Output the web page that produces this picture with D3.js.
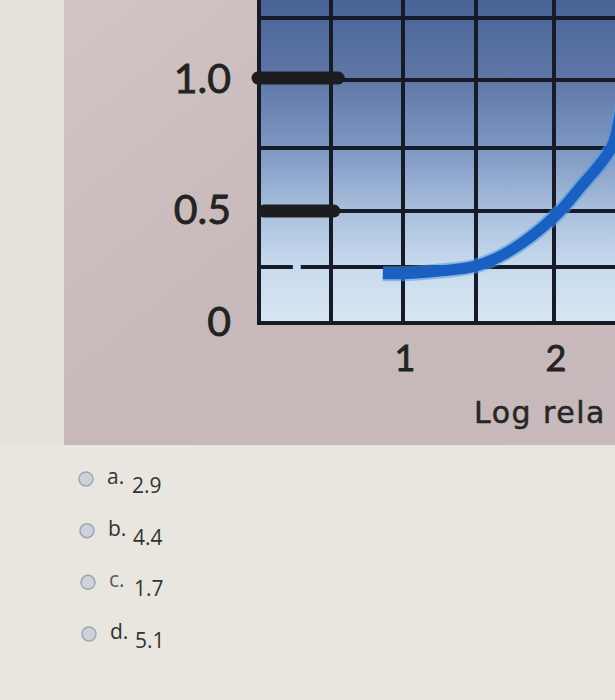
<!DOCTYPE html>
<html><head><meta charset="utf-8">
<script src="https://cdn.jsdelivr.net/npm/d3@7"></script>
<style>
html,body{margin:0;padding:0;background:#e8e6de;overflow:hidden;}
svg{display:block;}
</style></head>
<body>
<svg id="c" width="615" height="700"></svg>
<script>
// ---- data ----
const xTicks = [1, 2];
const xTickLabels = ["1", "2"];
const yTicks = [0, 0.5, 1.0];
const yTickLabels = ["0", "0.5", "1.0"];
const xGrid = [0.5, 1, 1.5, 2];
const yGrid = [0.25, 0.5, 0.75, 1.0, 1.25];
const curveX = [0.86, 1.0, 1.25, 1.5, 1.72, 2.0, 2.17, 2.37, 2.43, 2.50];
const curveY = [0.22, 0.22, 0.232, 0.255, 0.323, 0.473, 0.595, 0.754, 0.89, 1.05];
const xTitle = "Log rela";
const optLetters = ["a.", "b.", "c.", "d."];
const optValues = ["2.9", "4.4", "1.7", "5.1"];

const svg = d3.select("#c");
const W = 615, H = 700;

// photo perspective -> piecewise linear scales
const x = d3.scaleLinear().domain([0, 0.5, 1, 1.5, 2, 2.5]).range([259, 331, 403, 476, 554, 632]);
const y = d3.scaleLinear().domain([0, 0.25, 0.5, 0.75, 1, 1.25, 1.5]).range([323, 267, 211, 148, 80, 18, -44]);

const defs = svg.append("defs");
const pg = defs.append("linearGradient").attr("id", "plotbg").attr("x1", 0).attr("y1", 0).attr("x2", 0).attr("y2", 1);
[[0, "#4a6397"], [0.25, "#5f78a8"], [0.46, "#7e97c2"], [0.65, "#a8bfdc"], [0.82, "#c6d9ed"], [1, "#dae7f3"]]
  .forEach(s => pg.append("stop").attr("offset", s[0]).attr("stop-color", s[1]));
const panelG = defs.append("linearGradient").attr("id", "panelbg").attr("x1", 0).attr("y1", 0).attr("x2", 1).attr("y2", 1);
[[0, "#d2c5c4"], [0.5, "#c7b8b9"], [1, "#c8babc"]]
  .forEach(s => panelG.append("stop").attr("offset", s[0]).attr("stop-color", s[1]));
defs.append("clipPath").attr("id", "plotclip").append("rect")
  .attr("x", x(0)).attr("y", 0).attr("width", W - x(0)).attr("height", y(0));

// page regions
svg.append("rect").attr("x", 0).attr("y", 0).attr("width", 64).attr("height", 445).attr("fill", "#e3e1d9");
svg.append("rect").attr("x", 64).attr("y", 0).attr("width", W - 64).attr("height", 445).attr("fill", "url(#panelbg)");

// plot background
svg.append("rect").attr("x", x(0)).attr("y", 0).attr("width", W - x(0)).attr("height", y(0)).attr("fill", "url(#plotbg)");

const ink = "#161b27";
const grid = svg.append("g").attr("stroke", ink).attr("stroke-width", 4);
grid.selectAll("line.v").data(xGrid).join("line")
  .attr("x1", d => x(d)).attr("x2", d => x(d)).attr("y1", 0).attr("y2", y(0));
grid.selectAll("line.h").data(yGrid).join("line")
  .attr("x1", d => d === 0.25 ? x(0.29) : x(0)).attr("x2", W).attr("y1", d => y(d)).attr("y2", d => y(d));
grid.append("line").attr("x1", x(0)).attr("x2", x(0.235)).attr("y1", y(0.25)).attr("y2", y(0.25));
grid.append("line").attr("x1", x(0)).attr("x2", x(0)).attr("y1", 0).attr("y2", y(0) + 2);
grid.append("line").attr("x1", x(0) - 2).attr("x2", W).attr("y1", y(0)).attr("y2", y(0));

// bold tick bars at 0.5 and 1.0
svg.append("line").attr("x1", x(0) - 1).attr("x2", x(0.55)).attr("y1", y(1) - 2).attr("y2", y(1) - 2)
  .attr("stroke", "#1d1d1f").attr("stroke-width", 13).attr("stroke-linecap", "round");
svg.append("line").attr("x1", x(0) + 5).attr("x2", x(0.52)).attr("y1", y(0.5)).attr("y2", y(0.5))
  .attr("stroke", "#1d1d1f").attr("stroke-width", 13).attr("stroke-linecap", "round");

// curve
const pts = curveX.map((v, i) => [v, curveY[i]]);
const line = d3.line().x(d => x(d[0])).y(d => y(d[1])).curve(d3.curveCatmullRom.alpha(0.5));
const cg = svg.append("g").attr("clip-path", "url(#plotclip)");
cg.append("path").attr("d", line(pts)).attr("fill", "none").attr("stroke", "#4d9be0").attr("stroke-opacity", 0.55).attr("stroke-width", 15);
cg.append("path").attr("d", line(pts)).attr("fill", "none").attr("stroke", "#1a5fc2").attr("stroke-width", 11);

// y tick labels
svg.append("g").selectAll("text").data(yTicks).join("text")
  .attr("x", 231).attr("y", d => y(d) + 13)
  .attr("text-anchor", "end")
  .attr("font-family", "Lato, 'DejaVu Sans', sans-serif").attr("font-size", 41).attr("fill", "#232323")
  .attr("stroke", "#232323").attr("stroke-width", 0.8)
  .text((d, i) => yTickLabels[i]);

// x tick labels
svg.append("g").selectAll("text").data(xTicks).join("text")
  .attr("x", d => x(d) + 2).attr("y", 371)
  .attr("text-anchor", "middle")
  .attr("font-family", "Lato, 'DejaVu Sans', sans-serif").attr("font-size", 36).attr("fill", "#232323")
  .attr("stroke", "#232323").attr("stroke-width", 0.8)
  .text((d, i) => xTickLabels[i]);

// x axis title (visible part at the photo edge)
svg.append("text").attr("x", 474).attr("y", 423)
  .attr("font-family", "'DejaVu Sans', sans-serif").attr("font-size", 30).attr("letter-spacing", 1.5)
  .attr("fill", "#262626").attr("stroke", "#262626").attr("stroke-width", 0.5).text(xTitle);

// answer options
const oy = d3.scalePoint().domain(optLetters).range([479, 634]);
const og = svg.append("g").selectAll("g").data(optLetters).join("g")
  .attr("transform", (d, i) => `translate(${86 + i * 1},${oy(d)})`);
og.append("circle").attr("r", 7).attr("fill", "#cdd2db").attr("stroke", "#9ea7b5").attr("stroke-width", 1.5);
og.append("text").attr("x", 21).attr("y", 5)
  .attr("font-family", "'Open Sans', sans-serif").attr("font-size", 21)
  .attr("fill", (d, i) => i === 2 ? "#5a5a5a" : "#333").text(d => d);
og.append("text").attr("x", 46).attr("y", 14)
  .attr("font-family", "'Open Sans', sans-serif").attr("font-size", 21)
  .attr("fill", "#333").text((d, i) => optValues[i]);
</script>
</body></html>
